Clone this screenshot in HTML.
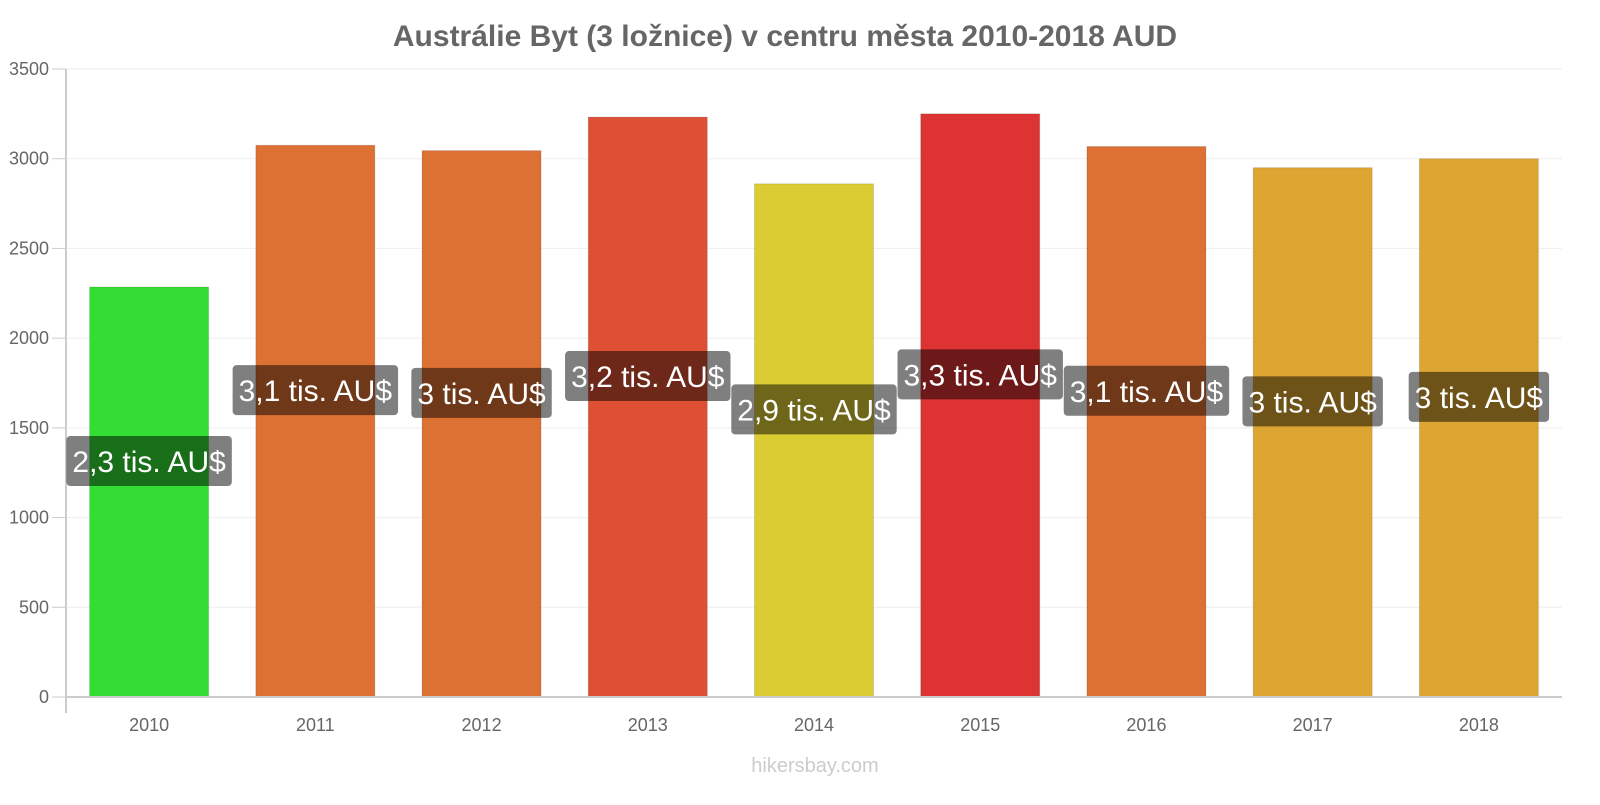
<!DOCTYPE html>
<html><head><meta charset="utf-8">
<style>
html,body{margin:0;padding:0;background:#fff;}
body{width:1600px;height:800px;overflow:hidden;font-family:"Liberation Sans",sans-serif;}
</style></head>
<body>
<svg id="chart" width="1600" height="800" xmlns="http://www.w3.org/2000/svg">
<text x="785" y="46" text-anchor="middle" font-family="Liberation Sans, sans-serif" font-size="30" font-weight="bold" fill="#666">Austrálie Byt (3 ložnice) v centru města 2010-2018 AUD</text>
<g id="grid"></g>
<g id="bars"></g>
<g id="axes"></g>
<g id="labels"></g>
<text x="815" y="772" text-anchor="middle" font-family="Liberation Sans, sans-serif" font-size="20" fill="#ccc">hikersbay.com</text>
</svg>
<script>
const categories = ["2010","2011","2012","2013","2014","2015","2016","2017","2018"];
const values = [2285, 3075, 3045, 3232, 2860, 3250, 3068, 2950, 3000];
const valueLabels = ["2,3 tis. AU$","3,1 tis. AU$","3 tis. AU$","3,2 tis. AU$","2,9 tis. AU$","3,3 tis. AU$","3,1 tis. AU$","3 tis. AU$","3 tis. AU$"];
const colors = ["#33dd33","#dd7033","#dd7033","#dd5033","#dccc33","#dd3333","#dd7033","#dda633","#dda633"];
const yTicks = [0,500,1000,1500,2000,2500,3000,3500];

const NS="http://www.w3.org/2000/svg";
const X0=66, X1=1562, Y0=697, Y1=69, YMAX=3500;
const band=(X1-X0)/categories.length;
function y(v){return Y0-(v/YMAX)*(Y0-Y1);}
function xc(i){return X0+band*(i+0.5);}
function mk(tag,attrs,parent){const e=document.createElementNS(NS,tag);for(const k in attrs)e.setAttribute(k,attrs[k]);parent.appendChild(e);return e;}

const grid=document.getElementById('grid'), axes=document.getElementById('axes'), bars=document.getElementById('bars'), labels=document.getElementById('labels');
yTicks.forEach(t=>{
  if(t>0){const g=mk('line',{x1:X0,x2:X1,y1:y(t),y2:y(t),stroke:'#eee','stroke-width':1},grid);
  
  }
  const tm=mk('line',{x1:X0-14,x2:X0,y1:y(t),y2:y(t),stroke:'#ccc','stroke-width':1},axes);
  
  
  const tl=mk('text',{x:X0-17,y:y(t)+6,'text-anchor':'end','font-size':18,fill:'#666','font-family':'Liberation Sans, sans-serif'},axes);
  tl.textContent=t;
  
  
});
const ya=mk('line',{x1:X0,x2:X0,y1:Y1,y2:Y0+16,stroke:'#ccc','stroke-width':2},axes);


const xa=mk('line',{x1:X0,x2:X1,y1:Y0,y2:Y0,stroke:'#ccc','stroke-width':2},axes);



const bw=119;
categories.forEach((c,i)=>{
  const top=y(values[i]);
  const r=mk('rect',{x:xc(i)-bw/2,y:top,width:bw,height:Y0-top,fill:colors[i],stroke:'rgba(0,0,0,0.12)','stroke-width':1},bars);
  
  
  const xl=mk('text',{x:xc(i),y:731,'text-anchor':'middle','font-size':18,fill:'#666','font-family':'Liberation Sans, sans-serif'},axes);
  xl.textContent=c;
  
  
  const cy=(top+Y0)/2-31;
  const t=mk('text',{x:xc(i),y:cy+11,'text-anchor':'middle','font-size':30,fill:'#fff','font-family':'Liberation Sans, sans-serif'},labels);
  t.textContent=valueLabels[i];
  
  
  const w=t.getComputedTextLength()+12;
  const bg=document.createElementNS(NS,'rect');
  bg.setAttribute('x',xc(i)-w/2);bg.setAttribute('y',cy-25);bg.setAttribute('width',w);bg.setAttribute('height',50);
  bg.setAttribute('rx',4);bg.setAttribute('fill','rgba(0,0,0,0.5)');
  
  
  labels.insertBefore(bg,t);
});
</script>
</body></html>
